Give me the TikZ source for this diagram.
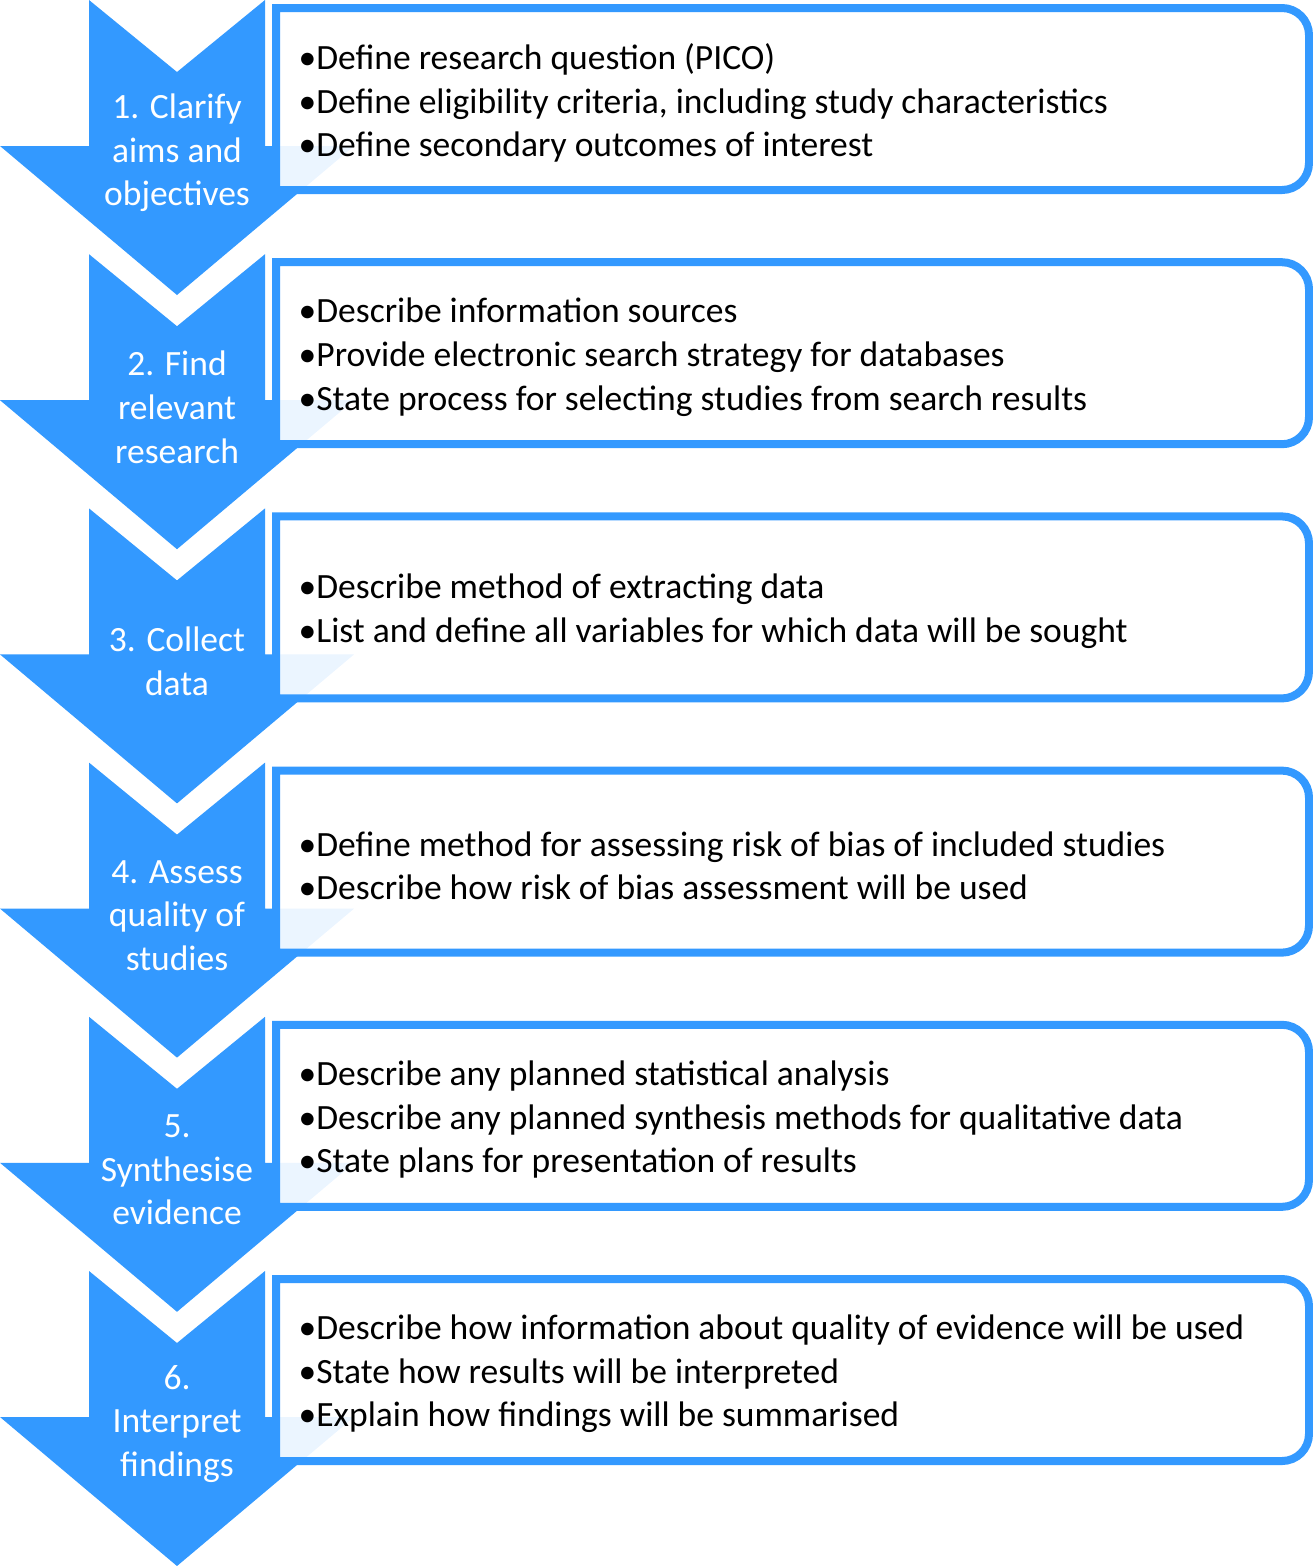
\documentclass[tikz,border=0pt]{standalone}
\usepackage{fontspec}
\setmainfont{Carlito}
\usetikzlibrary{calc}
\definecolor{chevblue}{RGB}{51,153,255}
\tikzset{
  chevron/.style={fill=chevblue, draw=none},
  listbox/.style={draw=chevblue, line width=0.08cm, fill=white, fill opacity=0.9},
  steplabel/.style={text=white, align=center, inner sep=0pt,
    font=\fontsize{10.1}{12.4}\selectfont},
  itemtext/.style={anchor=west, align=left, inner sep=0pt,
    font=\fontsize{10.1}{12.4}\selectfont}
}

\begin{document}
\begin{tikzpicture}[x=0.01cm, y=-0.01cm]
    \useasboundingbox (0,0) rectangle (1313,1566);
    \pgfmathsetmacro{\dy}{254.2}
    % chevrons and boxes
    \foreach \i in {0,...,5}{
      \pgfmathsetmacro{\ytop}{\dy*\i}
      \fill[chevron] (89,\ytop) -- (177,\ytop+72) -- (265,\ytop) -- (265,\ytop+146)
        -- (354,\ytop+146) -- (177,\ytop+295) -- (0,\ytop+146) -- (89,\ytop+146) -- cycle;
      \draw[listbox] (276,\ytop+8) -- (1282,\ytop+8) arc (90:0:0.27cm)
        -- (1309,\ytop+163) arc (0:-90:0.27cm) -- (276,\ytop+190) -- cycle;
    }
    % step labels
    \node[steplabel] (lbl1) at (177,153) {1. Clarify\\aims and\\objectives};
    \node[steplabel] (lbl2) at (177,\dy+153) {2. Find\\relevant\\research};
    \node[steplabel] (lbl3) at (177,2*\dy+153) {3. Collect\\data};
    \node[steplabel] (lbl4) at (177,3*\dy+153) {4. Assess\\quality of\\studies};
    \node[steplabel] (lbl5) at (177,4*\dy+153) {5.\\Synthesise\\evidence};
    \node[steplabel] (lbl6) at (177,5*\dy+153) {6.\\Interpret\\findings};
    % bullet lists
    \node[itemtext] (items1) at (298,103) {•Define research question (PICO)\\
      •Define eligibility criteria, including study characteristics\\
      •Define secondary outcomes of interest};
    \node[itemtext] (items2) at (298,\dy+103) {•Describe information sources\\
      •Provide electronic search strategy for databases\\
      •State process for selecting studies from search results};
    \node[itemtext] (items3) at (298,2*\dy+103) {•Describe method of extracting data\\
      •List and define all variables for which data will be sought};
    \node[itemtext] (items4) at (298,3*\dy+103) {•Define method for assessing risk of bias of included studies\\
      •Describe how risk of bias assessment will be used};
    \node[itemtext] (items5) at (298,4*\dy+103) {•Describe any planned statistical analysis\\
      •Describe any planned synthesis methods for qualitative data\\
      •State plans for presentation of results};
    \node[itemtext] (items6) at (298,5*\dy+103) {•Describe how information about quality of evidence will be used\\
      •State how results will be interpreted\\
      •Explain how findings will be summarised};
\end{tikzpicture}
\end{document}
